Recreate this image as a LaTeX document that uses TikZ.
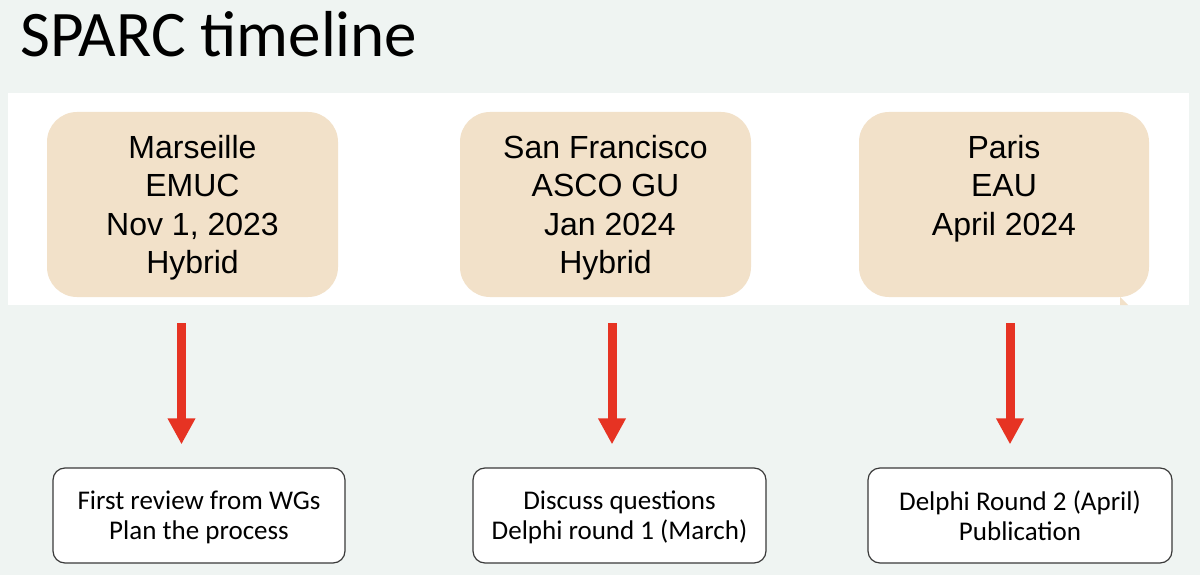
\documentclass[tikz,border=0pt]{standalone}
\usepackage{fontspec}
\setmainfont{Liberation Sans}
\newfontfamily\calibri{Carlito}
\usetikzlibrary{arrows.meta}
\definecolor{bg}{HTML}{EFF4F2}
\definecolor{tanfill}{HTML}{F2E1C9}
\definecolor{arrowred}{HTML}{E63323}
\definecolor{edgegray}{HTML}{3A3A3A}
\begin{document}
\begin{tikzpicture}[x=1pt,y=-1pt,
  venue/.style={fill=tanfill, rounded corners=30pt, minimum width=291pt, minimum height=185pt,
    align=center, font=\fontsize{32}{38.5}\selectfont, inner sep=0pt, text depth=-6pt},
  outcome/.style={draw=edgegray, line width=1.2pt, fill=white, rounded corners=12pt,
    minimum height=95pt, align=center, font=\calibri\fontsize{27}{30}\selectfont, inner sep=0pt, text depth=0pt},
  flow/.style={draw=arrowred, line width=9pt, -{Triangle[width=26pt,length=26pt]}}]
\fill[bg] (0,0) rectangle (1200,575);
\useasboundingbox (0,0) rectangle (1200,575);
\node[anchor=base west, inner sep=0pt, font=\calibri\fontsize{65}{70}\selectfont] (title) at (20,57) {SPARC timeline};
\fill[white] (8,93) rectangle (1189,305);
\fill[tanfill] (1120,297) -- (1120,305) -- (1128,305) -- cycle;
% venues
\node[venue] (t1) at (192.5,204.5) {Marseille\\EMUC\\Nov 1, 2023\\Hybrid};
\node[venue] (t2) at (605.5,204.5) {San Francisco\\ASCO GU\\\ Jan 2024\\Hybrid};
\node[venue, minimum width=290pt] (t3) at (1004,204.5) {Paris\\EAU\\April 2024\\\mbox{}};
% outcomes
\node[outcome, minimum width=292pt] (b1) at (199,515.5) {First review from WGs\\Plan the process};
\node[outcome, minimum width=293pt] (b2) at (619.5,515.5) {Discuss questions\\Delphi round 1 (March)};
\node[outcome, minimum width=304pt] (b3) at (1020,515.5) {Delphi Round 2 (April)\\Publication};
% arrows
\draw[flow] ([xshift=-11pt,yshift=-26pt]t1.south) -- ([xshift=-17.5pt,yshift=23pt]b1.north);
\draw[flow] ([xshift=6.5pt,yshift=-26pt]t2.south) -- ([xshift=-7.5pt,yshift=23pt]b2.north);
\draw[flow] ([xshift=6pt,yshift=-26pt]t3.south) -- ([xshift=-10pt,yshift=23pt]b3.north);
\end{tikzpicture}
\end{document}
